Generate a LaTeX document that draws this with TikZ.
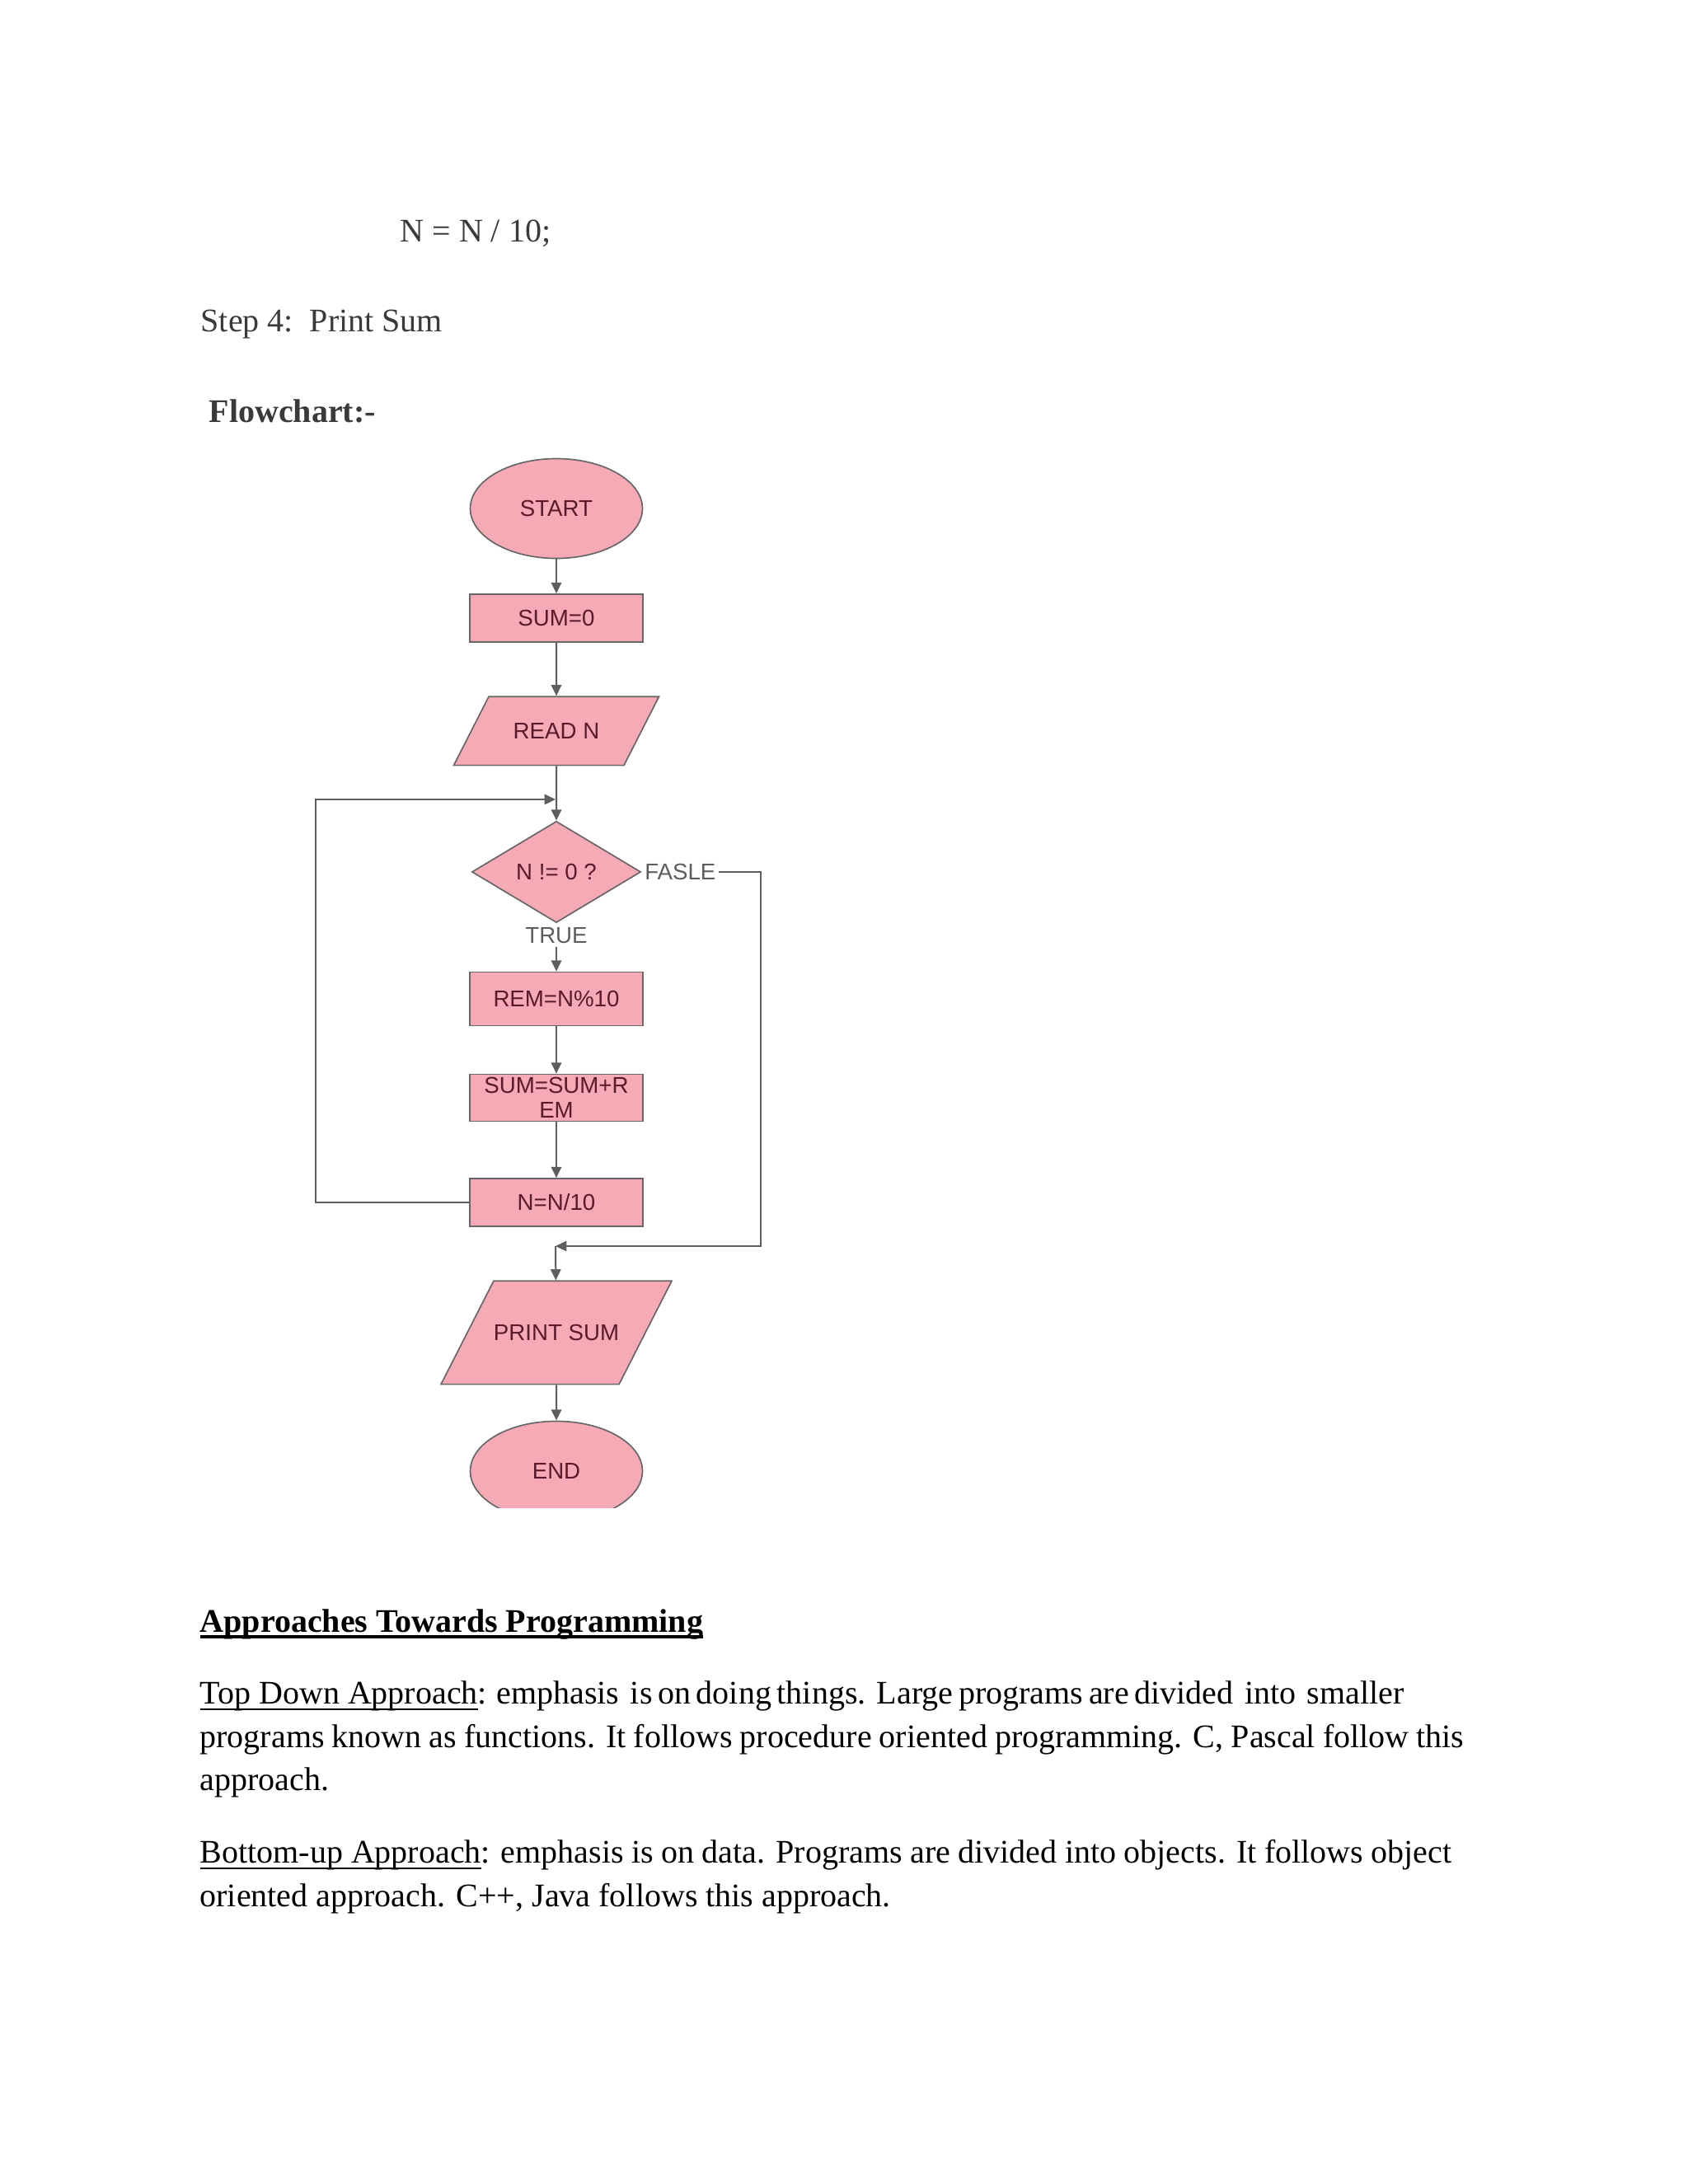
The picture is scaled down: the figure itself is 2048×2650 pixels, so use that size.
\documentclass[tikz,border=0pt]{standalone}
\usepackage{fontspec}
\setmainfont{Liberation Serif}
\newfontfamily\chartfont{Liberation Sans}
\usetikzlibrary{shapes.geometric,arrows.meta,positioning}
\definecolor{chartpink}{HTML}{F5AAB6}
\definecolor{chartedge}{HTML}{666666}
\definecolor{chartline}{HTML}{5E5E5E}
\definecolor{charttext}{HTML}{5B1A2B}
\definecolor{pagetext}{HTML}{3A3A3A}
\newsavebox\ulsave
\newcommand\ulwith[2]{\sbox\ulsave{#2}\rlap{\rule[-2.3pt]{\wd\ulsave}{#1}}\usebox\ulsave}

\begin{document}
\begin{tikzpicture}[x=0.010542cm, y=-0.010542cm,
  chart/.style = {draw=chartedge, fill=chartpink, line width=0.5pt, text=charttext,
                  font=\chartfont\fontsize{8.3}{9}\selectfont, inner sep=0pt},
  term/.style = {chart, ellipse, minimum width=2.203cm, minimum height=1.276cm},
  proc/.style = {chart, rectangle, minimum width=2.214cm, minimum height=0.611cm},
  io/.style = {chart, trapezium, trapezium left angle=63, trapezium right angle=117,
               trapezium stretches body, text height=6pt, text depth=0pt},
  cond/.style = {chart, diamond, minimum width=2.161cm, minimum height=1.297cm},
  answer/.style = {text=chartline, font=\chartfont\fontsize{8.3}{9}\selectfont, inner sep=1pt},
  flow/.style = {draw=chartline, line width=0.6pt, -{Triangle[length=1.4mm,width=1.3mm]}},
  textline/.style = {anchor=base west, inner sep=0pt, font=\fontsize{12}{14}\selectfont}]
\fill[white] (0,0) rectangle (2048,2650);
\useasboundingbox (0,0) rectangle (2048,2650);

\node[textline, text=pagetext] (code) at (485,293) {N = N / 10;};
\node[textline, text=pagetext] (step) at (243,402) {Step 4:\ \ Print\ Sum};
\node[textline, text=pagetext, font=\bfseries\fontsize{12}{14}\selectfont] (title) at (253,512) {Flowchart:-};

\node[term] (start) at (675,617) {START};
\node[proc] (sum) [below of=start, node distance=1.402cm] {SUM=0};
\node[io, inner ysep=9.5pt, minimum width=2.625cm] (read) [below of=sum, node distance=1.444cm] {READ N};
\node[cond] (test) [below of=read, node distance=1.803cm] {N != 0 ?};
\node[answer] (true) [below of=test, node distance=0.812cm] {TRUE};
\node[answer, anchor=west] (fasle) at (test.east) {FASLE};
\node[proc, minimum height=0.685cm] (rem) [below of=test, node distance=1.624cm] {REM=N\%10};
\node[proc, minimum height=0.601cm, align=center] (add) [below of=rem, node distance=1.265cm] {SUM=SUM+R\\EM};
\node[proc] (div) [below of=add, node distance=1.339cm] {N=N/10};
\node[io, inner ysep=15.8pt, minimum width=2.910cm] (print) [below of=div, node distance=1.666cm] {PRINT SUM};
\begin{scope}
\clip (0,0) rectangle (2048,1829);
\node[term] (stop) [below of=print, node distance=1.771cm] {END};
\end{scope}

\coordinate (loop) at (674,970);
\coordinate (join) at (674,1512);

\draw[flow] (start) -- (sum);
\draw[flow] (sum) -- (read);
\draw[flow] (read) -- (test);
\draw[flow] (div.west) -| (383,970) -- (loop);
\draw[flow] (true) -- (rem);
\draw[flow] (rem) -- (add);
\draw[flow] (add) -- (div);
\draw[flow] (fasle.east) -| (923,1512) -- (join);
\draw[flow] (join) -- (print);
\draw[flow] (print) -- (stop);

\node[textline, font=\bfseries\fontsize{12}{14}\selectfont] (head) at (242,1980) {\ulwith{1pt}{Approaches Towards Programming}};
\node[textline] (top1) at (242,2067) {\makebox[15.40cm][s]{\ulwith{0.6pt}{Top Down Approach}: emphasis\ \ is on doing things.\ \ Large programs are divided\ \ into\ \ smaller}};
\node[textline] (top2) at (242,2120) {\makebox[16.17cm][s]{programs known as functions. It follows procedure oriented programming. C, Pascal follow this}};
\node[textline] (top3) at (242,2172) {approach.};
\node[textline] (bot1) at (242,2260) {\makebox[16.01cm][s]{\ulwith{0.6pt}{Bottom-up Approach}: emphasis is on data. Programs are divided into objects. It follows object}};
\node[textline] (bot2) at (242,2313) {oriented approach. C++, Java follows this approach.};
\end{tikzpicture}
\end{document}
